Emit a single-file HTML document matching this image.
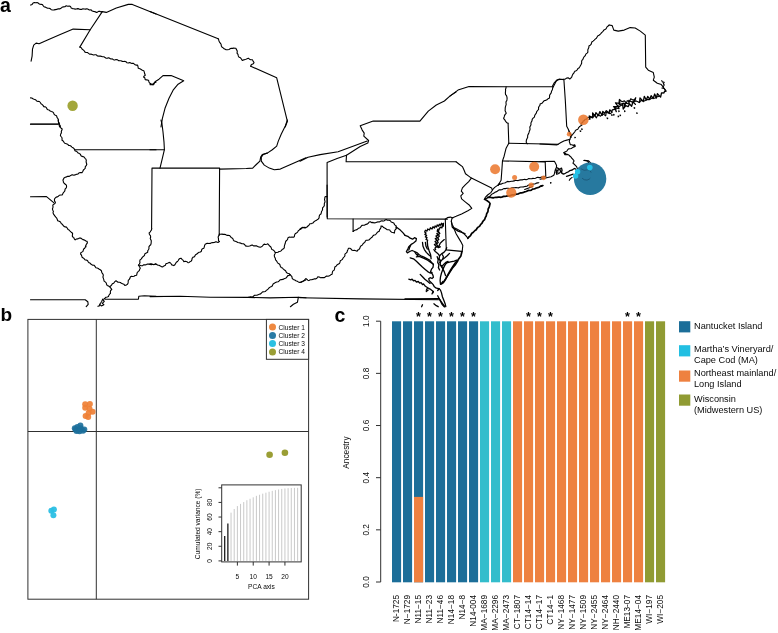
<!DOCTYPE html>
<html lang="en"><head><meta charset="utf-8"><title>Figure</title>
<style>html,body{margin:0;padding:0;background:#fff}body{width:778px;height:633px;overflow:hidden}svg{display:block}text{font-family:"Liberation Sans", Arial, Helvetica, sans-serif;fill:#0a0a0a}.pl{font-weight:bold;font-size:19.5px;fill:#000}.m{fill:none;stroke:#000;stroke-width:1.1;stroke-linejoin:round;stroke-linecap:round}.ax{fill:none;stroke:#303030;stroke-width:1}.t8{font-size:8.3px}.t6{font-size:6.6px}.lg{font-size:9.2px}</style></head><body>
<svg width="778" height="633" viewBox="0 0 778 633">
<rect width="778" height="633" fill="#fff"/>
<g class="m">
<polyline points="30.5,5 31.6,4.7 32.5,4 33.1,3 34.4,2.5 35.8,2.8 37.1,2.6 38.1,3 39,3.7 39.9,4.3 41.2,4.4 42.4,4.5 43.1,5.6 44,6.7 45.3,7.1 46.5,7.7 47.7,8.3 49,8.3 50.2,8.6 51.4,9.8 52.7,10 54.1,9.9 55.4,9.6 56.8,9.4 58.1,8.8 59.6,8.9 60.9,8.3 62,7.3 63.4,6.9 64.9,6.7 66.2,5.8 67.7,6.3 69.2,6 70.6,6.6 71.2,8 72.5,8.6 73.8,8.7 75.2,9.1 76.4,9 77.7,8.6 79,8.9 80.2,9.4 81.5,9.4 82.9,8.8 84.2,9 85.6,9.1 86.9,8.7 88.1,9.2 89.4,10 91.1,9.9 92.2,11 93.6,11.4 94.9,11.6 96.3,12.4 97.5,12.1 98.6,11.4 99.8,11.3 101.1,11.9 102.3,11.6"/>
<polyline points="102.3,11.6 106.3,12.4 116.3,8 128.3,4.4 132.3,4.4 156,14"/>
<polyline points="102.3,11.6 90.2,29.7 79.8,47.1"/>
<polyline points="79.8,47.1 81.3,47.8 82.2,49.2 83.2,49.9 84.2,50.8 84.9,52.1 86.2,52.5 87.5,52.5 88.3,53.2 89.5,54.2 90.9,54.1 92.2,54.5 93.5,55 95,54.7 96.3,54.8 97.5,56 98.9,56.1 100.3,56.1 101.5,56.4 102.7,56.8 103.9,56.8 105,57.4 106.1,58.2 107.4,58.1 108.8,57.8 109.9,58.4 111,59 112.3,58.9 113.5,59.7 114.7,60.1 116.1,59.6 117.4,59.8 118.5,60.6 119.8,60.8 121.1,60.8 122.3,61.4 123.5,61.5 124.8,61.4 126,61.7 127,62.8 128.2,63 129.7,62.6 130.8,63.1 132.1,63.4 133.5,63.4 134.6,64.4 135.9,65.1 137.6,65.1 138,66.6 138.3,68.3 139.9,68.7 141.2,69.4 142.2,70.3 143.8,70.7 144.3,72.2 144.7,73.8 145.3,75.2 144.2,76 143.5,77.1 144.8,77.8 145.2,79.6 146.8,79.9 148.5,80.2 148.9,81.7 149.5,82.9 150.9,83.7 152.6,84.6 153.5,83.4 154.6,82.6 156,82.2"/>
<polyline points="90.2,29.7 73.2,29.1 60.2,34.5 48.1,39.7 39.1,43.7 36.1,43.1 33.7,45.1 32.5,49.1 32.1,56.1 31.1,61.2"/>
<polyline points="30.5,97.9 31.8,98 32.9,98.7 34.1,99.2 35.5,99.7 36.6,100.9 38,101.4 39.4,101.5 40.3,102.5 41,103.7 42,104.4 43,105.4 43.8,106.6 45.4,106.9 46.4,107.6 47,109 48,109.7 49.2,110.1 50.2,111 51.4,111.5 52.8,112 53.6,112.9 54,114.2 54.8,114.9 56,115.4 56.7,116.2 57,117.4 57.6,118.3 58.3,119.2 58.4,120.3 58.4,121.7 59.2,122.9 59.6,124.2 59.2,125.7 59.8,126.9"/>
<polyline points="30.5,124.3 58.1,124.3"/>
<polyline points="150,11.6 218.2,38.7"/>
<polyline points="218.2,38.7 218.7,39.8 219,41 219.5,42.1 220.3,43.1 221.1,44.3 221.3,45.9 222.1,47.2 223.2,47.9 224.1,48.8 225.2,49.3 226.1,49.8 227.6,49.8 229,49.5 230.2,48.6 231.4,48.4 232.6,48.4 233.8,48.1 235,48.2 235.9,48.2 236.3,49.4 237.1,50.6 237.3,51.8 237,53.2 238,54.4 238.3,55.9 239.1,57.3 240.5,57.8 241.4,59 242.3,60.5 243.5,59.9 244.7,59.6 245.9,59.2 247,58.8 248.4,58.2 249.5,59.2 250.8,59.7 252.4,59.7 253.1,61.1 254,62.6 253.3,63.7 252.1,64.2 251.1,65 250.7,66.2"/>
<polyline points="250.7,66.2 276.7,77.8 287.4,121.3 285.3,126.9"/>
<polyline points="150,84.6 153.6,84.8 155,81.8 159,79.2 163,75.6 171.1,75.6 183.7,80.8 178.1,84.2 173.1,90.2 169,98.3 165,108.3 162.4,118.3 161,126.9"/>
<polyline points="161,120 162,124 163,132 164,142.1 164.4,149.7 162.4,158.1 160,168.1"/>
<polyline points="150,149.7 164.4,149.7"/>
<polyline points="151.6,228.3 152,168.1 219.6,168.1 219.2,235.3"/>
<polyline points="219.6,169.1 246.2,168.5 252.7,168.1 256.3,164.5 259.9,161.1 260.7,157.1 262.3,154.5 267.3,153.1"/>
<polyline points="287.4,120 285.3,126 281.3,134 278.3,141.1 276.7,146.1 272.3,149.7 267.3,153.1 263.3,154.5 261.3,157.1 261.3,161.1 264.3,165.1 269.3,168.1 274.3,169.7 280.3,169.1 306,157.7"/>
<polyline points="150,263.8 151.3,263.8 152.6,264.5 153.9,264.5 155.4,263.9 156.6,264.5 157.7,265.1 159,265.2 160.3,265.9 161.5,266.8 162.8,266.9 163.9,265.9 165.4,265.2 166,263.6 167.6,263.3 169.1,262.4 170.3,262.7 171.1,263.8 171.8,264.9 173,265.2 173.8,265.6 174.9,264.7 175.6,263.5 176.3,262.3 177.5,261.5 178.3,260.5 178.9,259.2 179.9,258.5 181,258.2 182,259.3 183,260.2 183.9,261.6 185.5,261.3 186.9,261.7 188.2,262.8 189.2,262.4 190.1,261.6 191.1,261.2 191.9,259.9 192.1,258.3 193.1,257.1 194.5,256.7 195.1,255.4 196,254.4 197.2,253.8 198,252.9 199.1,252.3 200.4,252 201.4,251.2 201.7,249.7 202.5,248.7 203.9,248.2 204.3,246.8 204.6,245.4 205.2,244.3 206.3,243.6 207.6,243.2 208.9,243.5 210.2,243.4 211.5,242.8 212.8,242.6 214.2,242.5 215.4,241.9 216.6,241.9 218,242.4 219.5,241.6 218.5,240.6 218.5,239.4 218.4,238.2 218.1,237.1 218.9,235.6 219.4,234.1"/>
<polyline points="219.4,234.1 220.6,234.2 221.9,234.1 223.2,234.4 224.5,234.4 225.7,234.6 226.9,235.4 228,235.3 229.5,235.5 230.4,236.3 231.1,237.5 232.2,238.1 233,238.9 233.4,240.2 234.3,241 235.3,241.3 236.6,241.8 237.8,242.5 239.2,242.7 240.5,243.1 241.8,243.8 243.4,243.7 244.6,244.5 245.5,245.9 246.9,246.1 248.2,246.2 249.6,246 250.9,245.4 252.3,245 253.5,245.9 254.9,245.9 256.4,245.7 257.6,246.5 258.9,246.9 260.3,247.2 261.4,246.7 262.4,246.1 263.2,245 264.2,244.1 265.5,244.5 266.8,244.3 267.8,243.8 268.7,244.9 269.6,246 270.7,246.8 271.3,248.1 271.9,249.6 273.3,250.1 274.5,251.2 275.3,252.5"/>
<polyline points="275.3,252.5 276.7,252.5 277.9,252.2 279.1,251.5 280.4,251.2 281.4,250.6 282.1,249.5 283.1,249.1 284.3,247.9 284.3,246.5 284.6,245.1 285.1,243.8 285.4,242.6 285.7,241.3 286.7,240.5 287.6,239.4 288,237.7 289.4,237.1 290.7,237.3 292,237.1 293.6,237.3 294.4,236.3 294.6,234.9 295.2,233.8 296.4,233.1 297.6,232.1 298.3,230.7 299.5,229.9 300.2,228.8 301.2,228.1 302.4,227.7 303.3,227.6 304.7,227.4 306,227.7"/>
<polyline points="275.3,252.5 275.1,253.7 274.4,254.7 274.3,255.9 274.6,257 275.3,258.3 275.5,259.8 276.6,260.9 277.3,262.2 278,263.3 279.3,263.9 280,264.9 280.3,266.3 281.1,267.4 282.5,268 283.4,269.1 284.5,270 285.6,270.8 286.3,272.3 287.4,273.2 288.9,273.5 290,274.6"/>
<polyline points="290,274.6 291,275.6 291.9,276.7 292.2,278.3 293.2,279.4 294.7,279.9 295.8,280.8 297.3,281.2 298.3,281.9 299.8,282.5 301.1,282.2 302.2,281.5 303.5,281 304.8,280.5 306,279.8"/>
<polyline points="290,274.6 289.2,275.5 287.8,275.6 287.1,276.6 286.4,277.7 285.4,278.3 284.1,278.7 282.9,279.4 281.5,279.6 280.1,279.8 279.2,280.9 278.1,281.8 276.7,282 275.5,282.6 274.3,283.2 273.1,284 272.5,285.4 271.7,286.6 270.2,287.1 269.1,287.8 268.3,288.8 267.3,289.7 266.3,290.4 265.4,291.5 264.1,291.8 262.6,291.9 261.6,292.8 260.6,293.9 259.3,294.3 258.1,294.7 256.9,295.2 255.6,295.3 254.3,295.4 253.3,296.4 252.1,297 250.7,296.7 249.5,297.1 248.3,297.4"/>
<polyline points="150,296.6 180.1,296.2 210.2,297.2 248.3,297.4 270.3,297.9 298.4,297.2 306,297.7"/>
<polyline points="298.4,297.2 297.4,302.3 293.4,304.3 290.4,306.7"/>
<polyline points="30.5,124 58.6,124"/>
<polyline points="58.1,120 58.4,121.2 58.5,122.5 58.7,123.8 59.4,124.8 60.3,125.7 60.4,127.2 61.1,128.2 62.2,129 61.8,130.3 61.3,131.5 61.4,132.9 60.7,134 60.4,135.4 61,136.5 61.9,137.5 62.1,138.8 62,140.2 63.2,141 64,142.3 64.9,143.3 66.3,143.7 67.6,144.2 68.6,145.4 69.9,145.5 71.1,146.2 71.9,147.1 73,147.8 74,148.5 74.6,149.7 75.1,150.9 76.5,151.3 77.4,152.1 78.2,153.1 79.4,153.6 80.4,154.3 81,155.7 81.9,156.4 83.3,156.6 84.3,157.3 85,158.3 85.9,159.1 86.3,160.4 86.1,161.8 86.4,163 86.8,164.5 86.2,165.7 85.2,166.8 85.3,168.2 84.4,169.1 83.4,170 82.9,171.3 82,172.6 80.6,172.5 79.3,172.7 78.4,173.7 77.2,174.3 76,174.4 74.9,174.9 73.8,175.2 72.4,174.8 71.3,175.1 70.2,175.8 69,176.4 67.6,176.3 66.5,176.9 65.3,177.2 64,177.9 63.5,179.2 62.9,180 63.3,181.1 63.4,182.3 64.1,183.3 65.3,184.2 66.4,185.1 66.6,186.5 66.3,187.8 65.2,188.8 65,190 64.6,191.4 63.6,192.3 62.9,193.5 62.3,194.9 60.9,195 59.5,195.2 58.4,196.2 57.4,196.9 56.2,197.1 55.4,197.9 54.7,198.6 54.4,199.9 54.6,201.1 55.4,202.4 54.9,203.5 53.8,204.2 52.8,205.2 53,206.5 52.9,207.7 52.4,208.9 52.8,210.2 53.4,211.3 53,212.9 53.5,214.1 54.3,215.1 55,216.2 55.8,217.2 56.7,218.1 57.2,219.3 57.7,220.7 59.2,221.2 60.5,221.9 61.1,223.4 62.2,224.2 63.1,225.3 63.9,226.3 65.1,226.9 66.5,227.1 67.3,228.2 68,229.4 69.1,230 70.1,231.1 71.2,232.2 72.6,233.2 72.5,234.6 72.3,236.1 73.2,237.3 74,238 74.4,239.1 75.2,239.9 76.4,239 78,238.9 79.1,238.1 80.6,238 81.7,238.8 82.9,239.6 84.2,239.9 85.2,240.4 86,241.2 87.1,241.3 87.4,242.9 86.5,244.1 85.8,245.4 85.8,246.9"/>
<polyline points="74.6,149.7 156,149.7"/>
<polyline points="30.5,196.8 46.5,196.6 53.7,202.6"/>
<polyline points="85.8,246.1 85.2,247.2 84.7,248.2 83.7,249 83.3,250.2 83,251.4 81.9,252.1 80.8,252.8 80.6,254.2 81.4,255 81.8,256.1 82.1,257.3 83.2,257.9 84.2,258.7 84.9,259.8 86.3,260.1 87.5,260.6 88.2,261.8 89.1,262.8 90.3,263.3 91.1,264.3 92.4,265.1 94,265.2 95,266.4 95.9,267.7 97.2,268 98.3,268.4 99.2,269.3 100.3,269.8 101.4,270.7 101.7,272.2 102.2,273.2 103.1,274.4 103.3,275.7 102.9,277 103.3,278.2 103.8,279.6 104.1,281.1 105.5,282.1 106.3,283 106.5,284.3 107.2,285.4 108.6,286 109.6,286.7 110.6,287.9 111.8,289.4 110.7,290.5 110.3,291.8 110.5,293.4 109.6,294.2 108.9,295.2 108.5,296.6 107.3,297 106,297.2 105.2,298 104.1,299 102.7,299.3 102.2,300.2 101.8,301.3 101.2,302.3 100.3,303.3 99.8,304.6 99.2,305.9 97.9,306.3"/>
<polyline points="109.9,286.6 110.9,285.8 111.7,284.9 112.3,283.8 113.7,283.2 114.6,281.9 116,280.8 117,281.5 118,282.3 119.2,282.3 120.4,282.5 121.4,283.2 122.6,283.8 123.8,284.2 124.8,285.4 125.9,285.3 126.9,284.6 127.5,284.2 128.1,282.9 128.2,281.5 128.3,280.2 129.3,279.4 129.9,278.4 130.3,277 131.4,276.3 132.8,276.5 134,276.3 135.1,275.5 136.6,275.3 136.9,273.8 137.3,272.3 138.5,271.3 139.4,270.4 139.7,269.2 140.3,268.2 139.8,267.2 139.2,266.2 138.4,265.1 139.3,264 140,262.8 139.8,261.4 140,259.9 141.1,259.1 141.8,258.1 142.5,257.1 143.5,256.3 144.5,255.3 144.9,253.7 146.3,253 147.7,252.3 147.7,250.8 148.5,249.7 149,248.4 148.9,246.9 149.6,245.7 150.7,244.8 151.1,243.5 151.2,242.2 151.3,240.8 150.7,239.6 150.2,238.4 150.7,237 150.4,235.7 149.5,234.5 149.1,232.9 150.1,232.1 150.7,231 151.4,230.1 151.8,228.5"/>
<polyline points="138.8,265.2 140,265.2 141.1,265.7 142.4,265.8 143.5,264.8 145.1,264.9 146.3,264.6 147.6,264.1 148.9,264.1 150.1,264.4 151.4,264.6 152.5,264.3 153.8,264.6 154.9,264.3 156,263.8"/>
<polyline points="105.3,299.3 138.4,299.3 138.8,296.2 144.4,295.8 156,296.2"/>
<polyline points="30.5,299.7 85.2,299.7 87.8,301.7 88.2,304.3 86.2,306.7"/>
<polyline points="102.7,299.3 104.3,301.3 102.3,303.3 103.9,304.7 101.3,305.9 99.9,304.7"/>
<polyline points="300,161.2 308,157.2 320.1,154.6 338.1,151.8 367.2,141.1"/>
<polyline points="456,92 450.4,95.6 444.4,101 436.3,105 428.3,111.1 419.9,121.1 373.2,121.1 360.2,125.7 362.2,130.1 364.2,133.1 363.8,136.1 368.6,140.5 367.8,143.1 360.2,146.5 346.5,155.2 346.1,161.8 456,161.8"/>
<polyline points="346.5,155.2 337.1,158.6 327.1,162.6 327.1,216.9"/>
<polyline points="327.1,185 327.3,218.7 447.4,219.1"/>
<polyline points="327.1,196.6 325.7,196.6 324.9,197 324.8,198.3 324.5,199.6 324.9,200.8 325,202 324.4,203.2 324.3,204.5 324.3,205.8 323.5,206.9 322.5,207.8 322.6,209.3 322.2,210.5 321.5,211.5 321.3,212.8 320.9,214 319.7,214.9 319.2,216.3 319.1,217.9 318.1,219.2 317,219.8 316.1,220.6 314.9,221.1 313.9,221.8 312.9,223.1 311.5,223.6 309.8,223.8 309,225.1 308,226 307,227 305.7,227.6 304.4,227.7 302.8,227.2 301.9,228 301.1,229 300,229.5"/>
<polyline points="353.1,219.1 353.1,231.5"/>
<polyline points="353.1,231.5 354.2,230.5 355.6,230 357,229.6 358.1,228.6 359.3,228.1 360.3,227.5 361.1,226.4 361.9,225.4 363.2,225.2 364.6,225.1 365.8,224.4 367.2,224.1 368.3,223.2 369.1,222 370.5,221.7 371.6,222.6 373.1,222.4 374.1,222.9 375.5,222.8 376.7,222.2 378,221.9 379.3,222 380.5,221.3 381.8,220.7 383.2,221.1 384.3,220.7 385.2,220 386.2,219.5 387.4,220.3 389,220.3 390.4,220.7 391.2,222.1 392.5,222.6 393.8,223.1 394.3,224.2 395,225.1 396.1,225.8 396.2,227.1"/>
<polyline points="396.2,227.1 396.4,228.5 395.4,229.5 394.7,230.6 394.6,231.9 394.3,233.1 393,232.5 391.7,232.2 390.6,231.4 389.8,230 388.4,229.7 387,229.6 385.9,228.7 384.7,228.1 383.5,227.5 382.6,226.4 381,226 381,227.5 380.4,228.7 379.5,229.8 379.3,231.2 378.1,231.8 377.1,232.6 376.3,233.7 375.5,234.8 374.1,235 373,235.8 372.3,237 371.2,237.8 370.2,238.7 369.3,239.8 367.9,240.1 366.3,240.2 365.3,241.2 364.7,242.4 363.6,243.2 362.8,244.2 362.1,245.2 360.8,245.9 360.2,247 359.8,248.4 359,249.4 357.8,250.1 357.1,251.2 355.8,250.7 354.5,250.3 353,250.5 351.8,250.1 351,248.9 349.9,248.3 348.5,248.2 348,249.4 347.4,250.7 347.1,252.1 346.1,253.2 344.9,254.2 344.9,255.8 344,257 343,258.1 342.5,259.3 341.4,260.1 340.3,260.8 340,262.2 339.4,263.5 338.1,264.2 336.9,265 336.1,266.2 334.8,267 334.6,268.6 334.2,270.1 332.7,271.1 332.3,272.6 332.1,274.3 330.7,274.8 329.5,275.8 328.1,276.3 326.7,276 325.5,276.8 324.4,277.6 323.1,277.6 321.8,277.5 320.5,277.7 319.3,277 317.8,276.8 316.9,278.2 315.5,278.9 314,278.9 312.8,279.4 311.5,279.7 310.2,279.8 308.9,280.6 307.8,280.2 307,279.4 305.8,278.5 304.9,279.5 304.1,280.6 303,281.2 301.6,281.9 300,282.2"/>
<polyline points="300,297.7 360.2,298.9 438.4,299.7"/>
<polyline stroke-width="1.3" points="396.2,227.1 400.3,230.1 403.3,233.1 405,235.4"/>
<polyline stroke-width="1.3" points="443.4,223.5 442.2,224.5 441.5,223.3 440.5,225.2 439.3,224.3 438.6,226.2 437.2,225 436.5,227.1 435.1,225.9 434.4,228.1 433,226.8 432,229 430.4,227.8 429.5,230 427.7,229 427,231.1 425.4,230.2 424.7,231.9 426,233 424.9,234.4 426.6,235.4 425.4,237 427,237.7 426,239.5 427.6,240.1 427.3,241.5 427.7,246.3 429.2,251 430.6,254.8 431.1,258.6"/>
<polyline stroke-width="1.3" points="422.5,242.5 423,246.3 424.4,249.6 426.3,252.4 428.7,254.8 430.6,256.2"/>
<polyline stroke-width="1.3" points="425.4,242.5 426,246.3 427.3,249.1"/>
<polyline stroke-width="1.3" points="405,235.4 407.8,236.3 410.2,238.2 412.6,239.2 414.5,237.7 416.4,238.7 415.9,241.1 413.5,243 411.2,244.4 408.8,246.8 407.8,249.1 406.4,251.5 407.4,252.9 409.7,251.5 412.1,250.5 414.5,251.5 417.3,252.9 419.2,254.8 421.6,256.2 424,257.2 426.8,258.6 429.6,260 431.5,262.4 433.4,264.3"/>
<polyline stroke-width="1.3" points="410.7,245.3 409.5,247.7 408.8,250.1"/>
<polyline stroke-width="1.3" points="415,252.4 416.4,254.3 418.3,254.8 417.1,255.9"/>
<polyline stroke-width="1.3" points="443.4,223.5 443.3,226.2 442.2,225.6 442,227.8 440.1,227.1 439.4,229.2 437.8,229.2 437.2,231.3 438.7,232.3 436.8,233.5 438,235.1 435.9,236 437.6,237.6 435.3,238.7 437.2,240.2 435,241.5 436.8,243.2 434.4,244.6 436.3,246.5 435,248.2 435.6,249.6"/>
<polyline stroke-width="1.3" points="438.8,230.2 438.4,231.6 439.8,233.5 438.4,234.4 439.3,236.3 437.6,237.7 438.8,239.5 437.2,240.8 438.2,242.5 436.5,243.9 437.4,245.5 436,247.2"/>
<polyline stroke-width="1.3" points="444.3,239.6 442,241.5 440.1,243.4 439.1,245.8 437.2,246.8 438.4,247.7 440.3,246.8"/>
<polyline stroke-width="1.3" points="433.9,249.6 435.3,251.5 437.7,253.4 439.6,255.8 441.5,253.9 443.9,252.4 445.8,250.1 446.7,247.7"/>
<polyline stroke-width="1.3" points="439.6,255.8 439.1,258.6 440.5,261.4 442.4,259.5 444.8,257.7 447.2,255.8 449.5,253.4"/>
<polyline stroke-width="1.3" points="440.5,261.4 440.1,264.3 441.5,266.7 443.9,264.3 445.8,262.4 448.1,261.4"/>
<polyline stroke-width="1.3" points="441.5,266.7 442.9,269 444.3,271.9 445.6,275.7"/>
<polyline stroke-width="1.3" points="437.2,256.7 438.2,259.5 437.7,262.4 438.9,264.8 438.4,267.6 439.6,270"/>
<polyline stroke-width="1.3" points="442.4,254.8 443.4,256.7 442.7,259.1"/>
<polyline stroke-width="1.3" points="452.4,227.3 455.2,229.2 458.1,231.1 461.9,232.5 465,233.5"/>
<polyline stroke-width="1.3" points="410.2,257.8 413.5,258.8 416.4,261.2 419.2,264 422.1,266.8 424.9,269.2 427.7,271.6 430.1,273 432,272.5"/>
<polyline stroke-width="1.3" points="416.4,256.9 419.2,256.4 424,258.3 427.7,260.2 431.1,262.6 433.4,264.5 433,267.3 431.5,269.2 430.6,271.6 432,273.5 433,275.4 433.4,277.3 432,278.5 430.1,277.7 428.7,278.7 429.2,280.6 431.1,282.5 433,284.4 434.4,286.8 436.3,288.2 439.1,288.6 440.5,290.1 441.5,292.9 442.4,296.7 443.9,300.5 445.3,304.3 445.8,306.7"/>
<polyline stroke-width="1.3" points="420.2,274.4 422.5,276.8 424.9,279.2 427.7,281.5 430.1,283.4"/>
<polyline stroke-width="1.3" points="408.8,279.2 410.7,279.8 412.1,279.2 413.5,280.8 415,280.4 416.4,282 418.3,281.5 419.7,283.2 421.1,282.7 422.5,284.6 423.5,283.9 425.4,286.3 427.7,287.7 430.1,289.1 432,290.5 433.4,291.5 433,292.9"/>
<polyline stroke-width="1.3" points="426.3,291.5 428.2,290.1"/>
<polyline stroke-width="1.3" points="432,293.9 433,291.5"/>
<polyline stroke-width="1.3" points="427.3,288.4 426.3,290.3"/>
<polyline stroke-width="1.3" points="405,298.9 439.1,298.6 440.5,300.5 442.4,303.3 444.8,306.7"/>
<polyline stroke-width="1.3" points="439.1,288.6 437.7,290.5"/>
<polyline stroke-width="1.3" points="437.7,295.8 439.6,299.5 442,304.3 444.3,306.7"/>
<polyline stroke-width="1.3" points="421.6,306.7 422.5,304.8"/>
<polyline stroke-width="1.3" points="433.9,303.8 436.3,305.7 438.2,306.7"/>
<polyline stroke-width="1.3" points="446.7,262.6 444.8,265.4 442.9,269.2 441.5,273 440.5,276.8 440.1,280.6 440.5,284.4 441.5,283.4 442.9,281.5"/>
<polyline stroke-width="1.7" points="461.9,251.7 460.9,255.9 458.1,259.7 455.2,263.1 452.9,266.4 450.5,270.2 448.1,274.4 445.8,278.7 443.4,282.5 441.5,283.9"/>
<polyline stroke-width="1.3" points="458.1,260.7 455.7,264.5 452.4,268.3 449.5,273 446.7,277.3 444.3,281.1"/>
<polyline stroke-width="1.3" points="445.8,263.1 450.5,261.8 454.3,261.2 456.7,260.2"/>
<polyline stroke-width="1.3" points="438.2,258.8 438.7,259.5"/>
<polyline stroke-width="1.3" points="439.6,262.1 440.2,262.9"/>
<polyline stroke-width="1.3" points="441,265.4 441.6,266.2"/>
<polyline stroke-width="1.3" points="442.9,267.3 443.5,268.1"/>
<polyline stroke-width="1.3" points="440.3,260.2 440.8,261"/>
<polyline points="456.1,161.8 459.2,164.2 462.4,166.6 463.9,169.7 465.5,173.7 468.7,176.1 471.4,178.1 491.6,187.9 492.4,190.3 490.8,192.6 487.6,195 485.3,197.4 484.5,199.3 486.8,198.2 489.2,197.1"/>
<polyline points="471.4,178.1 468.7,181.6 465.5,184.7 462.4,187.9 461.3,191.1 463.2,193.4 460.8,195.8 461.6,198.9 465.5,202.1 469.5,205.3 471.8,208.4 467.9,210.8 461.6,213.9 456.1,216.3 452.1,217.9 451.3,221.1 452.1,224.2 453.7,227.4 456.8,228.9 460.8,231.3 463.9,233.7 466.6,236.5 467.9,238.4"/>
<polyline points="445.3,219.2 447.4,217.6 450.5,217.1 452.9,217.9"/>
<polyline points="445.3,219.2 445.8,235.3 446.3,249.9 461.6,251.4"/>
<polyline points="451.3,221.1 452.1,226.6 454.5,229.7 456.1,233.7 458.4,237.6 460.8,241.6 462.8,245.5 462.2,251.4"/>
<polyline stroke-width="1.7" points="467.9,238.4 468.5,237.3 469.6,236.5 470.5,235.6 471.1,234.5 471.8,233.3 473.1,232.5 474,231.5 475,230.5 476.2,229.8 476.9,228.5 477.8,227.4 479,226.6 479.9,225.8 480.5,224.7 481.3,223.8 482.2,222.9 482.7,221.7 483.4,220.7 484.4,219.8 485,218.6 485.3,217.4 486.1,216.3 486.4,215.1 486.6,213.9 487.2,212.8 487.9,211.7 488.1,210.4 488.1,209.1 488.7,208 489.3,206.9 489.5,205.8 489.8,204.7 490.1,203.6 489.3,202.4 488.3,201.6 487.2,200.8 486.1,200.1 484.5,199.3"/>
<polyline points="492.4,189.8 494.7,187.4 497.9,185.1 499.5,183.5"/>
<polyline points="489.2,196.6 490.4,196 491.1,194.9 492,194.1 493.2,193.5 494.4,192.8 495.5,192 496.8,191.6 497.9,190.7 499,189.9 500.4,189.9 501.8,189.8 502.9,189.1 504.2,188.6 505.5,188.6 506.8,188.2 508.1,188.2 509.5,188.5 510.8,188.2 512.1,187.7 513.4,187.8 514.6,187.7 515.9,187.5 517.2,187.8 518.5,187.9 519.7,187.3 520.9,187 522.2,187 523.5,186.9 524.7,186.5 526,186.4 527.2,186 528.2,185.2 529.4,184.8 530.7,184.9 531.9,184.7 533,184.1 534.2,184 535.4,183.7 536.5,183.1 537.7,182.9 538.9,182.8"/>
<polyline stroke-width="1.7" points="487.6,197.4 489,197.4 490.4,197.3 491.8,197.7 493.2,197.9 494.5,197.5 495.8,197.4 497.1,197.4 498.4,197 499.7,197.1 501.1,197.3 502.4,196.9 503.6,196.4 505,196.4 506.3,196.2 507.6,195.9 509,196 510.3,195.7 511.5,195 512.9,194.8 514.2,194.9 515.5,194.4 516.8,194.2 518.2,194 519.4,193.3 520.7,192.9 522.2,192.8 523.5,192.4 524.7,191.8 526.1,191.5 527.3,190.9 528.6,190.4 530.1,190.5 531.4,190.1 532.5,189.2 533.9,189 535.2,188.6 536.4,188 537.7,187.7 539,187.3 540.2,186.4 541.5,185.8 542.9,185.5"/>
<polyline points="524.7,189.5 528.7,187.9 532.6,186.6"/>
<polyline points="450,96.1 458,90.1 469,86.5 506.1,86.7 553.3,86.7"/>
<polyline points="506.1,86.7 506,88 505.5,89.4 505.6,90.8 505.4,92 505.4,93.3 505.6,94.6 506.5,95.6 506.9,96.9 507.1,98.1 507,99.4 506.8,100.6 506,101.8 506,103.1 506.2,104.4 505.8,105.6 505.4,106.9 505.2,108.1 505.2,109.4 505.1,110.7 505.7,111.9 506.2,113.3 505.2,114.4 504.5,115.6 504.2,116.9 503.6,118.2 504.1,119.2 504.9,120 505.3,120.9 506.1,121.9 506.9,122.8 508.1,123.2"/>
<polyline points="508.1,123.2 508.8,143.2"/>
<polyline points="553.3,86.7 552.6,87.7 552.6,88.9 552.2,90 551.5,91.3 551.2,92.9 550.3,94.1 549.6,95.3 549.6,96.8 549.3,98.2 547.9,98.8 546.9,99.8 545.5,100.4 544,100.8 543.2,101.8 542.4,102.9 541.3,103.4 540.1,104.1 539.9,105.4 539,106.5 538.5,107.8 538.6,109.3 537.6,110.5 536.7,111.7 536.3,113.2 535.4,114.3 534.7,115.6 534.4,117.1 533.1,118.1 532.2,119.3 532,120.9 531.2,122.2 530.9,123.4 531,124.7 530.4,125.9 529.8,127.1 530,128.4 530,129.7 529.4,130.9 529.1,132.2 528.7,133.4 528,134.6 527.6,135.9 527.7,137.3 527.1,138.5 526.5,139.7 526.3,140.9 526.2,142.2 527.2,143.8"/>
<polyline points="553.3,86.7 556.3,81.1 559.3,79 563.9,79.7 565.3,100.1 566.7,126.2 568.3,129.2 571.3,137.2"/>
<polyline points="545.2,161.9 545.8,176.3"/>
<polyline points="502.5,160.9 501.7,172.3 501.1,180.3 498.1,185.3"/>
<polyline points="498.1,185.3 499.2,184.4 500.5,184.1 501.8,183.9 502.9,183.2 504.2,183 505.4,182.7 506.5,181.9 507.6,181.4 509,181.8 510.2,181.5 511.5,181.2 512.8,181.1 514.2,180.9 515.4,180.2 516.8,180.5 518.2,180.6 519.5,180.1 520.8,179.9 522.2,179.9 523.5,179.5 524.8,179.4 526.2,179.7 527.5,179.2 528.8,178.5 530.2,178.8 531.6,178.8 532.9,178.4 534.2,178.5 535.5,178.3 536.6,177.6 537.8,177.3 539.1,177.6 540.3,177.6 541.6,177.1 543.1,177 544.4,176.5 545.8,176.3"/>
<polyline points="583.9,160.5 588.4,160.7 590.8,163.1 591.4,166.1"/>
<polyline points="508.8,143.2 558.3,144.2"/>
<polyline points="508.8,143.2 506.1,148.2 504.1,156.2 502.5,160.9 545.2,161.9"/>
<polyline points="540,144 557.1,144.9 560.5,142.7 563.8,141 567.6,139.9 569.6,139.2"/>
<polyline points="569,131.1 569.8,132.8 570.8,134.1 571.5,135.5 570.6,136.4 570.4,137.7 570.1,138.9 569.5,140.2 569.3,141.6 569.8,143 570.3,144.6 571.8,144.8 573.1,145.2 574.7,144.9 575.2,146.6 573.9,147.1 572.6,147.6 571.3,148.5 569.9,148.8 568.5,148.9 567.6,149.8 567,150.9 566,151.6 564.9,152.1 564,152.5 564.4,153.5 564.8,154.6 565.9,154.8 567.2,154.4 568.3,154.7 569.3,155.4 570,156.3 571,157 571.6,158 572.5,158.8 573.3,159.8 574.1,161 573.4,162 573,163.3 574,164 574.9,164.8 575.6,165.7 576.5,166.5 577.2,168 578.2,169.2"/>
<polyline points="563.8,152.6 564.5,153.5 566,153.3 565.2,154.4"/>
<polyline points="573.2,145.5 574.3,146.2 574.9,145.2"/>
<polyline points="571.5,135.5 572.5,134.8 573.1,133.8 573.9,132.9 574.7,132 575.2,130.9 576,130 577.2,129.6 578.1,128.8 578.6,127.6 579.4,126.8 580.3,126.1 581.2,125.5 582,125"/>
<polyline stroke-width="1.3" points="584.2,160.4 586.4,160.6 588.1,161.5 588.7,163.2"/>
<polyline points="540,161.5 554.4,161.3 555.5,163.2 556.6,165.4 556.4,167.6 555.5,169.2 554.9,171.4 554.4,173.7 553.8,175.3 551.1,176.8 547.7,177.5 545,178.1 540,179.2"/>
<polyline stroke-width="1.3" points="556.6,167.6 557.7,168.1 559,168.8 558.4,169.9 557.5,170.6 556.7,171.3 556.1,172 556.5,173.1 556.6,174.2 557.7,173.9 558.6,173.5 559.8,172.7 560.8,171.4 560.1,170.4 559.8,169 560.7,168.6 561.5,168.1 561.8,169.2 562.1,170.3 561.6,171.7 561.6,173.1 562.6,173.3 563.1,174 564.4,173.8 565.5,173.2 566.5,172.5 567.7,172.1 568.8,171.5 569.7,170.6 570.9,170.3 572.2,170 573.2,169.3 574.4,168.5 575.9,169.2"/>
<polyline points="555.5,170.3 557.1,169.8 556.6,172.6 558.2,172"/>
<polyline stroke-width="1.3" points="566.5,176.4 568.8,175.6 571,174.8 573.2,174.2"/>
<polyline points="569.3,180.3 570.4,178.6 572.1,177.5"/>
<polyline points="550.5,182.5 551.1,182.8 550.6,183.2 550.5,182.5"/>
<polyline points="541.7,185.6 542.2,185.9 541.8,186.3 541.7,185.6"/>
<polyline points="574.8,137.2 575.4,137.5 574.9,137.8 574.8,137.2"/>
<polyline points="540.9,185.8 541.4,186.2 541,186.5 540.9,185.8"/>
<polyline points="563.7,79.2 564.9,79.2 565.9,78.6 566.9,78.1 568.1,77.8 569.1,78.5 569.8,79 570.6,78.2 571.6,77.4 572,76.2 572.4,75.1 573,74 573.8,73.2 574.3,72.1 575.1,71.1 576.3,70.7 577.2,69.8 577.9,68.6 578.9,68.1 579.8,66.8 580.5,65.5 581.2,64.2 581.7,63 581.6,61.6 581.9,60.4 582.9,59.4 583.3,58.3 583.8,57.1 584.8,56.2 585.5,55.1 586,53.9 587.1,53.1 587.9,52.1 587.8,50.8 587.9,49.5 588.4,48.4 588.9,47.3 588.9,45.9 590.1,45.2 591.1,44.4 591.5,43 592,41.8 593.1,41.1 594.2,40.1 595.2,39.1 596.4,38.3 597.1,37 597.9,35.8 599,35.2 600,34.5 600.8,33.6 601.6,32.6 602.5,31.8 603.3,30.9 604,29.9 605.4,29.3 606.4,28.3 607,26.9 608.1,26 609.2,25"/>
<polyline points="609.2,25 612.2,25.6 613.8,30.1 618.2,31.1 624.2,30.1 630.2,27.6 635.2,28 640.3,31.1 645.3,35.1 645.7,67.1 648.3,70.2 653.3,72.6 654.3,77.2 653.3,80.2 657.3,83.2 661.3,84.6 663.3,87.2 665.3,90.2 664.3,91.8"/>
<polyline points="563.7,79.2 557,79.8 554,83.2 552.4,86.2"/>
<polyline points="581.1,124.3 581.2,123.2 582.7,122.4 583.3,120.7 584.2,120.7 585.1,119.3 586.4,119.3 587.4,117.7 588.5,117.3"/>
<polyline stroke-width="1.3" points="590,119.1 589.3,116 592.8,117.3 592.6,112.9 595,116.2 595.9,112.6 598.4,115.5 599.9,111.6 602.2,115.4 602.8,111.4 604.7,113.3 606.3,110.7 609.2,113 609.7,109.8 611.7,111.9 612.3,109.9 616,109 613.5,106.6 618.2,106.6 615.5,102.9 619.7,103.4 619.9,100.5 619.4,104.6 624.1,103.2 624.5,107 625.6,103 629,104 628.8,100.5 632.9,102.4 635.7,97.9 633.9,101.4 636.1,101 639.6,102.5 640,97.9 643.3,101.5 644.3,96.3 646.3,100 647.7,96.4 649.7,99.2 651.1,95.7 653.2,98.5 654.7,94 656.4,98.1 657.4,93.7 660.6,97.1 661.5,93 663.7,92.9"/>
<polyline points="663.9,93 664.5,91.6 666.2,91.1 664.7,89.1 663.9,88.4 661.9,88 663.5,87.7 663.2,86.7 664.2,84.9 663.3,83.7 664.2,82.4 662.3,81.9 661.8,80.6"/>
<polyline points="589,119.5 590.1,117 592.7,117.9 594.2,114.8 596.4,117.8 598.1,114.6 600.5,116.2 603.1,113.9 605.7,115.8 606.3,112.2 610.1,113.8 612.3,112.1"/>
<polyline stroke-width="1.3" points="616.3,111.7 614.9,107.7 619,108.6 618.2,105.9 618.8,106.8 622.6,104.5 623.2,109 625.7,105.7 628.1,106.7 629.6,103.9 631.6,106.3 633,101.8 635.4,104.4"/>
<polyline points="618.8,103.8 619.4,99.4 621.9,101.7 624.5,100.9 626.5,103.2 627.2,100.6 629.3,101.9 630.7,98.7 632.9,100 635.4,99.3"/>
<polyline points="639,102.4 641.2,100.5 644.4,101 646.9,99.5 649.6,99.6 651.6,98.3 655.2,98.2 656.6,96.8 659.2,96.5"/>
<polyline points="607.1,117.9 607.8,118.3 607.3,118.7 607.1,117.9"/>
<polyline points="611.6,114.7 612.3,115.1 611.8,115.5 611.6,114.7"/>
<polyline points="613.6,114.4 614.2,114.8 613.7,115.2 613.6,114.4"/>
<polyline points="618.1,116 618.7,116.4 618.2,116.8 618.1,116"/>
<polyline points="620,115 620.6,115.3 620.1,115.7 620,115"/>
<polyline points="636.7,112.8 637.3,113.2 636.8,113.5 636.7,112.8"/>
<polyline points="634.1,107.6 634.8,108 634.3,108.4 634.1,107.6"/>
<polyline points="624.5,110.8 625.1,111.2 624.6,111.6 624.5,110.8"/>
<polyline points="618.7,110.8 619.3,111.2 618.8,111.6 618.7,110.8"/>
<polyline points="580.1,130.8 580.8,131.2 580.3,131.5 580.1,130.8"/>
<polyline points="581.7,128.8 582.3,129.2 581.8,129.6 581.7,128.8"/>
</g>
<circle cx="590.1" cy="178.8" r="16.2" fill="#27799f"/>
<polyline fill="none" stroke="#1b5878" stroke-width="0.9" points="580.9,168.7 584.2,170.3 587.6,169.8 590.3,170.9 591.1,172.6"/>
<polyline fill="none" stroke="#1b5878" stroke-width="0.9" points="582,178.1 584.2,179.7 587,180.1 589.2,179.2 590.3,178.1"/>
<circle cx="589.8" cy="167.6" r="2.8" fill="#25c1e6"/>
<circle cx="577.6" cy="171.7" r="2.7" fill="#25c1e6"/>
<circle cx="575.6" cy="176.1" r="2.7" fill="#25c1e6"/>
<circle cx="495.1" cy="169.2" r="5" fill="#eb752a" fill-opacity="0.85"/>
<circle cx="534.2" cy="166.7" r="5" fill="#eb752a" fill-opacity="0.85"/>
<circle cx="514.6" cy="177.4" r="2.5" fill="#eb752a" fill-opacity="0.85"/>
<circle cx="543.6" cy="177.8" r="2.4" fill="#eb752a" fill-opacity="0.85"/>
<circle cx="531.2" cy="185.2" r="2.6" fill="#eb752a" fill-opacity="0.85"/>
<circle cx="511.3" cy="192.7" r="5.1" fill="#eb752a" fill-opacity="0.85"/>
<circle cx="583.4" cy="119.8" r="5.3" fill="#eb752a" fill-opacity="0.85"/>
<circle cx="569.2" cy="134.2" r="2.4" fill="#eb752a" fill-opacity="0.85"/>
<circle cx="72.6" cy="105.7" r="5.2" fill="#a3a73c"/>
<text class="pl" x="0" y="12">a</text>
<text class="pl" x="0.5" y="321.3" style="font-size:19px">b</text>
<text class="pl" x="334.5" y="321.8">c</text>
<g class="ax">
<rect x="27.9" y="319.4" width="280.7" height="279.8"/>
<line x1="96.3" y1="319.4" x2="96.3" y2="599.2"/>
<line x1="27.9" y1="431.5" x2="308.6" y2="431.5"/>
<rect x="266.4" y="319.4" width="42.2" height="39.9" fill="#fff"/>
</g>
<circle cx="85.2" cy="404.3" r="3" fill="#ef8035" fill-opacity="0.92"/>
<circle cx="89.9" cy="403.9" r="3" fill="#ef8035" fill-opacity="0.92"/>
<circle cx="85.2" cy="407.8" r="3" fill="#ef8035" fill-opacity="0.92"/>
<circle cx="89.5" cy="408.7" r="3" fill="#ef8035" fill-opacity="0.92"/>
<circle cx="92.6" cy="411.7" r="3" fill="#ef8035" fill-opacity="0.92"/>
<circle cx="88.6" cy="413" r="3" fill="#ef8035" fill-opacity="0.92"/>
<circle cx="85.6" cy="416" r="3" fill="#ef8035" fill-opacity="0.92"/>
<circle cx="88.2" cy="416.9" r="3" fill="#ef8035" fill-opacity="0.92"/>
<circle cx="74.8" cy="428.2" r="3" fill="#1c6f9b" fill-opacity="0.9"/>
<circle cx="77.4" cy="426.9" r="3" fill="#1c6f9b" fill-opacity="0.9"/>
<circle cx="80.4" cy="425.6" r="3" fill="#1c6f9b" fill-opacity="0.9"/>
<circle cx="78.2" cy="429.9" r="3" fill="#1c6f9b" fill-opacity="0.9"/>
<circle cx="75.6" cy="429.5" r="3" fill="#1c6f9b" fill-opacity="0.9"/>
<circle cx="80.8" cy="428.2" r="3" fill="#1c6f9b" fill-opacity="0.9"/>
<circle cx="84.3" cy="429.5" r="3" fill="#1c6f9b" fill-opacity="0.9"/>
<circle cx="83" cy="430.8" r="3" fill="#1c6f9b" fill-opacity="0.9"/>
<circle cx="76.5" cy="431" r="3" fill="#1c6f9b" fill-opacity="0.9"/>
<circle cx="79.5" cy="431.3" r="3" fill="#1c6f9b" fill-opacity="0.9"/>
<circle cx="51.3" cy="510.8" r="3" fill="#2bbfe4" fill-opacity="0.95"/>
<circle cx="53.9" cy="509.5" r="3" fill="#2bbfe4" fill-opacity="0.95"/>
<circle cx="53.4" cy="515.2" r="3" fill="#2bbfe4" fill-opacity="0.95"/>
<circle cx="269.6" cy="454.8" r="3.3" fill="#9a9e35"/>
<circle cx="284.9" cy="452.8" r="3.3" fill="#9a9e35"/>
<circle cx="272.5" cy="327.1" r="3.5" fill="#ee8840"/>
<text class="t6" x="278.6" y="329.5">Cluster 1</text>
<circle cx="272.5" cy="335.4" r="3.5" fill="#2a7ba5"/>
<text class="t6" x="278.6" y="337.8">Cluster 2</text>
<circle cx="272.5" cy="343.6" r="3.5" fill="#2bc0e2"/>
<text class="t6" x="278.6" y="346">Cluster 3</text>
<circle cx="272.5" cy="351.9" r="3.5" fill="#9a9e35"/>
<text class="t6" x="278.6" y="354.3">Cluster 4</text>
<rect class="ax" x="221.7" y="484.9" width="79.5" height="77" stroke-width="0.8"/>
<line x1="224.7" y1="560.9" x2="224.7" y2="536.046" stroke="#1a1a1a" stroke-width="1.3"/>
<line x1="227.87" y1="560.9" x2="227.87" y2="523.619" stroke="#1a1a1a" stroke-width="1.3"/>
<line x1="231.04" y1="560.9" x2="231.04" y2="512.654" stroke="#c9c9c9" stroke-width="1"/>
<line x1="234.21" y1="560.9" x2="234.21" y2="508.999" stroke="#c9c9c9" stroke-width="1"/>
<line x1="237.38" y1="560.9" x2="237.38" y2="506.075" stroke="#c9c9c9" stroke-width="1"/>
<line x1="240.55" y1="560.9" x2="240.55" y2="503.882" stroke="#c9c9c9" stroke-width="1"/>
<line x1="243.72" y1="560.9" x2="243.72" y2="502.054" stroke="#c9c9c9" stroke-width="1"/>
<line x1="246.89" y1="560.9" x2="246.89" y2="500.227" stroke="#c9c9c9" stroke-width="1"/>
<line x1="250.06" y1="560.9" x2="250.06" y2="498.765" stroke="#c9c9c9" stroke-width="1"/>
<line x1="253.23" y1="560.9" x2="253.23" y2="497.303" stroke="#c9c9c9" stroke-width="1"/>
<line x1="256.4" y1="560.9" x2="256.4" y2="495.841" stroke="#c9c9c9" stroke-width="1"/>
<line x1="259.57" y1="560.9" x2="259.57" y2="494.744" stroke="#c9c9c9" stroke-width="1"/>
<line x1="262.74" y1="560.9" x2="262.74" y2="493.648" stroke="#c9c9c9" stroke-width="1"/>
<line x1="265.91" y1="560.9" x2="265.91" y2="492.698" stroke="#c9c9c9" stroke-width="1"/>
<line x1="269.08" y1="560.9" x2="269.08" y2="491.747" stroke="#c9c9c9" stroke-width="1"/>
<line x1="272.25" y1="560.9" x2="272.25" y2="490.87" stroke="#c9c9c9" stroke-width="1"/>
<line x1="275.42" y1="560.9" x2="275.42" y2="490.139" stroke="#c9c9c9" stroke-width="1"/>
<line x1="278.59" y1="560.9" x2="278.59" y2="489.481" stroke="#c9c9c9" stroke-width="1"/>
<line x1="281.76" y1="560.9" x2="281.76" y2="488.896" stroke="#c9c9c9" stroke-width="1"/>
<line x1="284.93" y1="560.9" x2="284.93" y2="488.458" stroke="#c9c9c9" stroke-width="1"/>
<line x1="288.1" y1="560.9" x2="288.1" y2="488.165" stroke="#c9c9c9" stroke-width="1"/>
<line x1="291.27" y1="560.9" x2="291.27" y2="487.946" stroke="#c9c9c9" stroke-width="1"/>
<line x1="294.44" y1="560.9" x2="294.44" y2="487.873" stroke="#c9c9c9" stroke-width="1"/>
<line x1="297.61" y1="560.9" x2="297.61" y2="487.8" stroke="#c9c9c9" stroke-width="1"/>
<g class="ax" stroke-width="0.7">
<line x1="218.5" y1="560.9" x2="221.7" y2="560.9"/>
<line x1="218.5" y1="546.28" x2="221.7" y2="546.28"/>
<line x1="218.5" y1="531.66" x2="221.7" y2="531.66"/>
<line x1="218.5" y1="517.04" x2="221.7" y2="517.04"/>
<line x1="218.5" y1="502.42" x2="221.7" y2="502.42"/>
<line x1="218.5" y1="487.8" x2="221.7" y2="487.8"/>
<line x1="237.38" y1="561.9" x2="237.38" y2="565.6"/>
<line x1="253.23" y1="561.9" x2="253.23" y2="565.6"/>
<line x1="269.08" y1="561.9" x2="269.08" y2="565.6"/>
<line x1="284.93" y1="561.9" x2="284.93" y2="565.6"/>
</g>
<text class="t6" text-anchor="middle" x="237.38" y="578.9">5</text>
<text class="t6" text-anchor="middle" x="253.23" y="578.9">10</text>
<text class="t6" text-anchor="middle" x="269.08" y="578.9">15</text>
<text class="t6" text-anchor="middle" x="284.93" y="578.9">20</text>
<text class="t6" text-anchor="middle" x="261.5" y="589">PCA axis</text>
<text class="t6" text-anchor="middle" transform="translate(212.2 560.9) rotate(-90)">0</text>
<text class="t6" text-anchor="middle" transform="translate(212.2 546.28) rotate(-90)">20</text>
<text class="t6" text-anchor="middle" transform="translate(212.2 531.66) rotate(-90)">40</text>
<text class="t6" text-anchor="middle" transform="translate(212.2 517.04) rotate(-90)">60</text>
<text class="t6" text-anchor="middle" transform="translate(212.2 502.42) rotate(-90)">80</text>
<text class="t6" text-anchor="middle" transform="translate(200.3 523.8) rotate(-90)">Cumulated variance (%)</text>
<rect x="392" y="321.3" width="9.1" height="261" fill="#1c6e99"/>
<rect x="403" y="321.3" width="9.1" height="261" fill="#1c6e99"/>
<rect x="414" y="321.3" width="9.1" height="261" fill="#1c6e99"/>
<rect x="425" y="321.3" width="9.1" height="261" fill="#1c6e99"/>
<rect x="436" y="321.3" width="9.1" height="261" fill="#1c6e99"/>
<rect x="447" y="321.3" width="9.1" height="261" fill="#1c6e99"/>
<rect x="458" y="321.3" width="9.1" height="261" fill="#1c6e99"/>
<rect x="469" y="321.3" width="9.1" height="261" fill="#1c6e99"/>
<rect x="480" y="321.3" width="9.1" height="261" fill="#33bdcc"/>
<rect x="491" y="321.3" width="9.1" height="261" fill="#33bdcc"/>
<rect x="502" y="321.3" width="9.1" height="261" fill="#33bdcc"/>
<rect x="513" y="321.3" width="9.1" height="261" fill="#ee8140"/>
<rect x="524" y="321.3" width="9.1" height="261" fill="#ee8140"/>
<rect x="535" y="321.3" width="9.1" height="261" fill="#ee8140"/>
<rect x="546" y="321.3" width="9.1" height="261" fill="#ee8140"/>
<rect x="557" y="321.3" width="9.1" height="261" fill="#ee8140"/>
<rect x="568" y="321.3" width="9.1" height="261" fill="#ee8140"/>
<rect x="579" y="321.3" width="9.1" height="261" fill="#ee8140"/>
<rect x="590" y="321.3" width="9.1" height="261" fill="#ee8140"/>
<rect x="601" y="321.3" width="9.1" height="261" fill="#ee8140"/>
<rect x="612" y="321.3" width="9.1" height="261" fill="#ee8140"/>
<rect x="623" y="321.3" width="9.1" height="261" fill="#ee8140"/>
<rect x="634" y="321.3" width="9.1" height="261" fill="#ee8140"/>
<rect x="645" y="321.3" width="9.1" height="261" fill="#909b33"/>
<rect x="656" y="321.3" width="9.1" height="261" fill="#909b33"/>
<rect x="414" y="496.9" width="9.1" height="85.4" fill="#ee8140"/>
<g class="ax" stroke-width="0.8">
<line x1="380.7" y1="321.2" x2="380.7" y2="582"/>
<line x1="376" y1="582" x2="380.7" y2="582"/>
<line x1="376" y1="529.84" x2="380.7" y2="529.84"/>
<line x1="376" y1="477.68" x2="380.7" y2="477.68"/>
<line x1="376" y1="425.52" x2="380.7" y2="425.52"/>
<line x1="376" y1="373.36" x2="380.7" y2="373.36"/>
<line x1="376" y1="321.2" x2="380.7" y2="321.2"/>
</g>
<text class="t8" text-anchor="middle" transform="translate(369.2 582) rotate(-90)">0.0</text>
<text class="t8" text-anchor="middle" transform="translate(369.2 529.84) rotate(-90)">0.2</text>
<text class="t8" text-anchor="middle" transform="translate(369.2 477.68) rotate(-90)">0.4</text>
<text class="t8" text-anchor="middle" transform="translate(369.2 425.52) rotate(-90)">0.6</text>
<text class="t8" text-anchor="middle" transform="translate(369.2 373.36) rotate(-90)">0.8</text>
<text class="t8" text-anchor="middle" transform="translate(369.2 321.2) rotate(-90)">1.0</text>
<text class="t8" text-anchor="middle" transform="translate(348.6 452.6) rotate(-90)">Ancestry</text>
<text class="t8" text-anchor="end" transform="translate(399.25 594.9) rotate(-90)">N-1725</text>
<text class="t8" text-anchor="end" transform="translate(410.25 594.9) rotate(-90)">N−1729</text>
<text class="t8" text-anchor="end" transform="translate(421.25 594.9) rotate(-90)">N11−15</text>
<text class="t8" text-anchor="end" transform="translate(432.25 594.9) rotate(-90)">N11−23</text>
<text class="t8" text-anchor="end" transform="translate(443.25 594.9) rotate(-90)">N11−46</text>
<text class="t8" text-anchor="end" transform="translate(454.25 594.9) rotate(-90)">N14−18</text>
<text class="t8" text-anchor="end" transform="translate(465.25 594.9) rotate(-90)">N14−8</text>
<text class="t8" text-anchor="end" transform="translate(476.25 594.9) rotate(-90)">N14-004</text>
<text class="t8" text-anchor="end" transform="translate(487.25 594.9) rotate(-90)">MA−1689</text>
<text class="t8" text-anchor="end" transform="translate(498.25 594.9) rotate(-90)">MA−2296</text>
<text class="t8" text-anchor="end" transform="translate(509.25 594.9) rotate(-90)">MA−2473</text>
<text class="t8" text-anchor="end" transform="translate(520.25 594.9) rotate(-90)">CT−1807</text>
<text class="t8" text-anchor="end" transform="translate(531.25 594.9) rotate(-90)">CT14−14</text>
<text class="t8" text-anchor="end" transform="translate(542.25 594.9) rotate(-90)">CT14−17</text>
<text class="t8" text-anchor="end" transform="translate(553.25 594.9) rotate(-90)">CT14−1</text>
<text class="t8" text-anchor="end" transform="translate(564.25 594.9) rotate(-90)">NY−1468</text>
<text class="t8" text-anchor="end" transform="translate(575.25 594.9) rotate(-90)">NY−1477</text>
<text class="t8" text-anchor="end" transform="translate(586.25 594.9) rotate(-90)">NY−1509</text>
<text class="t8" text-anchor="end" transform="translate(597.25 594.9) rotate(-90)">NY−2455</text>
<text class="t8" text-anchor="end" transform="translate(608.25 594.9) rotate(-90)">NY−2464</text>
<text class="t8" text-anchor="end" transform="translate(619.25 594.9) rotate(-90)">NH−2440</text>
<text class="t8" text-anchor="end" transform="translate(630.25 594.9) rotate(-90)">ME13-07</text>
<text class="t8" text-anchor="end" transform="translate(641.25 594.9) rotate(-90)">ME14−04</text>
<text class="t8" text-anchor="end" transform="translate(652.25 594.9) rotate(-90)">WI−197</text>
<text class="t8" text-anchor="end" transform="translate(663.25 594.9) rotate(-90)">WI−205</text>
<text text-anchor="middle" x="418.55" y="321.0" style="font-size:12.5px;font-weight:bold;fill:#000">*</text>
<text text-anchor="middle" x="429.55" y="321.0" style="font-size:12.5px;font-weight:bold;fill:#000">*</text>
<text text-anchor="middle" x="440.55" y="321.0" style="font-size:12.5px;font-weight:bold;fill:#000">*</text>
<text text-anchor="middle" x="451.55" y="321.0" style="font-size:12.5px;font-weight:bold;fill:#000">*</text>
<text text-anchor="middle" x="462.55" y="321.0" style="font-size:12.5px;font-weight:bold;fill:#000">*</text>
<text text-anchor="middle" x="473.55" y="321.0" style="font-size:12.5px;font-weight:bold;fill:#000">*</text>
<text text-anchor="middle" x="528.55" y="321.0" style="font-size:12.5px;font-weight:bold;fill:#000">*</text>
<text text-anchor="middle" x="539.55" y="321.0" style="font-size:12.5px;font-weight:bold;fill:#000">*</text>
<text text-anchor="middle" x="550.55" y="321.0" style="font-size:12.5px;font-weight:bold;fill:#000">*</text>
<text text-anchor="middle" x="627.55" y="321.0" style="font-size:12.5px;font-weight:bold;fill:#000">*</text>
<text text-anchor="middle" x="638.55" y="321.0" style="font-size:12.5px;font-weight:bold;fill:#000">*</text>
<rect x="679" y="321.2" width="11.3" height="11.2" fill="#1c6e99"/>
<text class="lg" x="694" y="328.8">Nantucket Island</text>
<rect x="679" y="345.2" width="11.3" height="11.2" fill="#22bfe2"/>
<text class="lg" x="694" y="352">Martha’s Vineryard/</text>
<text class="lg" x="694" y="362.8">Cape Cod (MA)</text>
<rect x="679" y="370.5" width="11.3" height="11.2" fill="#ee8140"/>
<text class="lg" x="694" y="376">Northeast mainland/</text>
<text class="lg" x="694" y="386.8">Long Island</text>
<rect x="679" y="394.5" width="11.3" height="11.2" fill="#909b33"/>
<text class="lg" x="694" y="401.7">Wisconsin</text>
<text class="lg" x="694" y="412.6">(Midwestern US)</text>
</svg></body></html>
